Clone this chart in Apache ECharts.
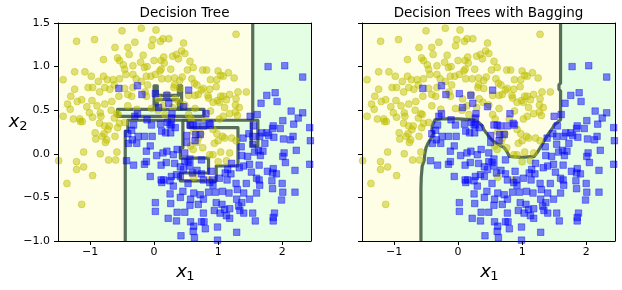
<!DOCTYPE html>
<html><head><meta charset="utf-8">
<script src="https://cdn.jsdelivr.net/npm/echarts@6/dist/echarts.min.js"></script>
<style>html,body{margin:0;padding:0;background:#fff}#c{width:622px;height:290px}</style>
</head><body><div id="c"></div>
<script>
// ---- data ----
const titles = ['Decision Tree', 'Decision Trees with Bagging'];
const xTicks = [-1, 0, 1, 2];
const yTicks = [-1.0, -0.5, 0.0, 0.5, 1.0, 1.5];
const xRange = [-1.5, 2.45];
const yRange = [-1, 1.5];

// class 0 (yellow circles)
const class0 = [
[-1.21,1.29],[-0.93,1.31],[-0.50,1.41],[-0.20,1.44],[0.03,1.42],[-0.02,1.31],[0.14,1.32],[0.10,1.29],[-0.04,1.24],[0.23,1.32],[0.46,1.27],[1.28,1.37],
[-0.61,1.22],[-0.41,1.22],[-0.17,1.13],[-0.30,1.28],[-0.39,1.14],[-0.57,1.10],[-0.54,1.07],[-0.48,1.02],[-0.46,0.97],[-0.33,1.01],[-0.21,1.05],[-0.15,0.99],[-0.11,1.00],[0.00,1.07],[0.15,1.11],[0.11,1.07],[0.16,1.04],[0.11,0.97],[0.09,0.95],[0.26,0.97],[0.29,1.12],[0.35,1.14],[0.43,1.18],[0.48,1.15],[0.38,1.09],[0.56,1.06],[0.61,0.99],[0.52,0.96],[0.76,0.96],[0.82,0.96],[1.00,0.95],[1.16,0.93],[1.04,0.90],
[-0.79,1.08],[-1.08,0.94],[-1.24,0.94],[-0.98,0.89],[-0.87,0.83],[-0.79,0.89],[-0.73,0.85],[-0.64,0.85],[-0.54,0.86],[-0.44,0.91],[-0.33,0.91],[-0.28,0.86],[-0.20,0.83],[-0.12,0.89],[-0.05,0.89],[0.02,0.91],[0.12,0.86],[0.22,0.86],[0.32,0.87],[0.40,0.84],[0.44,0.88],[0.59,0.86],[0.63,0.81],[0.67,0.79],[0.88,0.85],[0.98,0.85],[1.08,0.89],[1.25,0.87],
[-1.42,0.85],[-1.30,0.66],[-1.24,0.74],[-1.20,0.60],[-1.13,0.62],[-1.03,0.76],[-0.96,0.76],[-0.85,0.71],[-0.77,0.76],[-0.69,0.74],[-0.62,0.79],[-0.55,0.66],[-0.46,0.75],[-0.41,0.68],[-0.35,0.66],[-0.33,0.76],[-0.14,0.71],[-0.12,0.66],[-0.10,0.79],[0.32,0.79],[0.31,0.76],[0.40,0.75],
[0.54,0.67],[0.64,0.67],[0.69,0.68],[0.74,0.73],[0.77,0.75],[0.85,0.64],[0.84,0.67],[0.87,0.74],[0.97,0.77],[1.08,0.66],[1.18,0.68],[1.28,0.63],[1.31,0.71],[1.44,0.71],[1.13,0.62],[0.99,0.61],[0.92,0.59],
[-1.42,0.43],[-1.35,0.57],[-1.31,0.51],[-1.15,0.37],[-1.12,0.37],[-1.16,0.40],[-1.26,0.40],[-1.05,0.54],[-1.01,0.47],[-0.97,0.61],[-0.96,0.42],[-0.89,0.55],[-0.84,0.47],[-0.83,0.43],[-0.77,0.57],[-0.66,0.60],[-0.67,0.50],[-0.58,0.46],[-0.62,0.41],[-0.56,0.45],[-0.41,0.55],[-0.27,0.51],
[-0.85,0.35],[-0.92,0.24],[-0.91,0.17],[-0.81,0.20],[-0.72,0.28],[-0.77,0.32],[-0.61,0.20],[-0.57,0.30],[-0.54,0.35],[-0.46,0.36],[-0.74,0.16],[-1.10,0.02],[-1.21,-0.09],[-1.21,-0.18],[-0.96,-0.25],[-1.36,-0.34],[-1.13,-0.58],[-1.49,-0.08],[-0.84,0.00],[-0.71,-0.07],[-0.60,-0.07],[-0.58,0.02],[-0.76,0.13],[-0.70,0.32],[-0.78,0.23],[-1.10,-0.15],
[1.04,0.66],[1.02,0.59],[1.10,0.53],[1.27,0.56],[1.33,0.53],[1.18,0.46],[1.30,0.44],[1.02,0.40],[1.08,0.43],[0.88,0.49],[0.64,0.52],[0.54,0.45],[0.58,0.40],[0.92,0.28],[0.98,0.23],[1.07,0.20],[1.10,0.18],[0.94,0.12],[1.04,0.02],[1.18,0.01],[1.00,-0.09],[0.87,-0.01],[0.76,0.07],[0.67,0.13],[0.57,0.09],[0.73,0.23],[0.62,0.25],[0.26,0.40],[0.17,0.45],[0.29,0.53],[0.39,0.59],[0.48,0.56],[0.33,0.63],[0.20,0.68],[0.07,0.63],[0.14,0.55],[0.06,0.50],[-0.04,0.52],[0.62,-0.27],[0.92,-0.01],[1.13,-0.08],[0.85,-0.30],[0.61,0.05],[1.27,0.48],[0.80,0.40],[1.21,0.18],[1.00,0.15],[0.69,0.18],[1.28,0.15]
];

// class 1 (blue squares)
const class1 = [
[-0.55,0.75],[-0.26,0.78],[-0.19,0.68],[0.02,0.69],[0.54,0.73],[1.78,1.00],[2.04,1.01],[2.32,0.88],[1.76,0.67],[1.92,0.60],[1.89,0.70],[1.67,0.58],[2.14,0.49],[2.32,0.47],[2.25,0.41],[2.18,0.34],[2.01,0.38],[1.50,0.43],[1.61,0.45],[1.86,0.32],[1.85,0.29],[1.68,0.24],[1.76,0.24],[1.79,0.21],[1.97,0.29],[2.02,0.17],[1.87,0.19],[2.17,0.20],[2.43,0.30],[2.44,0.15],[2.43,-0.12],[2.22,0.04],[2.03,0.01],[2.01,-0.03],[2.05,-0.10],[2.20,-0.19],[1.86,-0.17],[1.85,-0.22],[1.91,-0.23],[1.77,-0.20],[1.84,-0.31],[1.66,-0.02],[1.63,0.04],[1.54,0.11],[1.48,0.23],[1.39,0.18],[1.46,-0.03],[1.49,-0.12],[1.64,-0.13],[1.37,-0.02],[1.40,-0.14],[1.52,-0.21],[1.60,-0.28],[1.64,-0.30],[1.65,-0.36],[1.60,-0.45],[1.49,-0.52],[1.40,-0.45],[1.29,-0.52],[1.37,-0.56],[1.28,-0.34],[1.30,-0.41],[1.17,-0.45],[1.07,-0.43],[1.15,-0.18],[1.11,-0.22],[1.02,-0.28],[0.92,-0.36],[0.96,-0.44],[0.85,-0.44],[0.72,-0.47],[0.77,-0.52],[0.57,-0.52],[0.62,-0.45],[0.45,-0.43],[0.25,-0.46],[0.30,-0.37],[0.25,-0.31],[0.27,-0.26],[0.15,-0.30],[0.12,-0.33],[0.11,-0.13],[0.19,-0.10],[0.32,-0.11],[0.41,-0.15],[0.48,-0.09],[0.56,-0.14],[0.67,-0.19],[0.74,-0.23],[0.60,-0.22],[0.46,-0.18],[0.41,-0.26],[0.35,-0.24],[0.04,-0.02],[0.14,0.01],[0.20,0.03],[0.30,-0.01],[0.36,0.05],[0.48,0.01],[0.56,-0.06],[0.53,-0.10],[0.74,-0.07],[0.89,-0.20],[0.91,-0.30],[0.87,-0.33],[1.21,-0.11],[1.33,-0.16],[1.20,-0.23],[1.14,-0.30],
[0.26,0.24],[0.18,0.24],[-0.04,0.33],[-0.11,0.39],[-0.26,0.46],[-0.30,0.43],[-0.41,0.23],[-0.40,0.12],[-0.27,0.12],[-0.35,0.27],[-0.25,0.20],[-0.15,0.20],[-0.03,0.20],[0.12,0.26],[0.25,0.33],[0.21,0.36],[0.27,0.33],[0.28,0.46],[0.07,0.53],[0.27,0.41],[0.46,0.54],[0.61,0.33],[0.66,0.32],[0.65,0.22],[0.51,0.21],[0.51,0.13],[0.64,0.15],[0.72,0.22],[0.77,0.32],[0.86,0.35],[0.88,0.33],[0.81,0.46],[1.55,0.32],[1.54,0.20],[1.65,0.20],[1.73,0.12],
[-0.15,-0.12],[-0.43,-0.08],[-0.32,-0.13],[-0.06,-0.26],[0.11,-0.30],[0.02,-0.56],[0.02,-0.66],[0.22,-0.74],[0.36,-0.67],[0.48,-0.67],[0.56,-0.59],[0.69,-0.58],[0.77,-0.68],[0.78,-0.78],[0.97,-0.56],[0.94,-0.65],[1.03,-0.68],[1.10,-0.64],[1.13,-0.71],[1.18,-0.74],[1.18,-0.63],[1.32,-0.60],[1.34,-0.65],[1.40,-0.68],[1.54,-0.68],[1.58,-0.77],[1.88,-0.68],[1.86,-0.73],[1.86,-0.77],[1.99,-0.53],[2.01,-0.44],[2.20,-0.44],[1.85,-0.40],[0.74,-0.78],[0.80,-0.86],[0.62,-0.83],[0.61,-0.89],[0.57,-0.78],[0.42,-0.94],[0.63,-0.96],[0.99,-0.84],[0.99,-0.99],[1.29,-0.90],[1.06,-0.58],
[2.00,-0.34],[1.44,-0.34],[0.77,-0.30],[0.53,-0.34],[0.35,-0.77],[0.26,-0.57],[0.41,-0.50],[-0.32,0.33],[0.10,0.34],[0.33,0.30],[-0.34,0.16],[-0.06,0.09],[-0.12,0.03],[-0.12,-0.09],[0.23,0.58],[2.13,0.16],[1.70,0.03],[1.57,0.02],[1.36,0.08],[0.56,0.33],[0.20,0.67]
];

// decision regions (outline vertices in data units)
const treeRegionsClass1 = [
  [[-0.45,-1.4],[-0.45,0.26],[-0.41,0.26],[-0.41,0.385],[1.54,0.385],[1.54,1.9],[2.8,1.9],[2.8,-1.4]],
  [[-0.57,0.43],[0.78,0.43],[0.78,0.51],[-0.57,0.51]],
  [[0.0,0.51],[0.05,0.51],[0.05,0.62],[0.38,0.62],[0.38,0.51],[0.43,0.51],[0.43,0.78],[0.38,0.78],[0.38,0.67],[0.05,0.67],[0.05,0.78],[0.0,0.78]]
];
const treeRegionsClass0 = [
  [[1.52,0.09],[1.62,0.09],[1.62,0.385],[1.52,0.385]],
  [[0.45,0.385],[0.54,0.385],[0.54,0.30],[1.31,0.30],[1.31,-0.14],[0.97,-0.14],[0.97,-0.31],[0.41,-0.31],[0.41,-0.22],[0.85,-0.22],[0.85,-0.05],[0.41,-0.05],[0.41,0.07],[0.45,0.07]]
];
const baggingBoundary = [
  [1.60,1.9],[1.60,0.81],[1.575,0.79],[1.575,0.74],[1.60,0.72],[1.60,0.39],[1.55,0.36],[1.50,0.33],[1.48,0.30],[1.42,0.24],[1.37,0.18],[1.33,0.13],[1.30,0.09],[1.24,0.02],[1.19,-0.03],[1.00,-0.04],[0.80,-0.03],[0.76,0.03],[0.72,0.07],[0.62,0.11],[0.54,0.15],[0.48,0.20],[0.44,0.24],[0.40,0.28],[0.38,0.32],[0.32,0.36],[0.25,0.39],[0.00,0.40],[-0.26,0.40],[-0.36,0.39],[-0.40,0.33],[-0.41,0.27],[-0.38,0.24],[-0.42,0.18],[-0.47,0.12],[-0.50,0.07],[-0.52,0.00],[-0.53,-0.08],[-0.56,-0.14],[-0.575,-0.27],[-0.58,-0.40],[-0.58,-1.4]
];
const baggingRegionsClass1 = [ baggingBoundary.concat([[2.8,-1.4],[2.8,1.9]]) ];

// ---- styles ----
const FONT = 'DejaVu Sans';
const COL0_BG = '#fefee7', COL1_BG = '#e3fee3';
const LINE = 'rgba(70,94,72,0.9)';

function regionSeries(gi, polys, fill, withStroke, z) {
  return {
    type: 'custom', xAxisIndex: gi, yAxisIndex: gi, clip: true, z: z, silent: true,
    data: polys.map(p => p[0]),
    renderItem: function (params, api) {
      const pts = polys[params.dataIndex].map(q => api.coord(q));
      return { type: 'polygon', shape: { points: pts },
        style: withStroke ? { fill: 'none', stroke: LINE, lineWidth: 3.2, lineJoin: 'round' }
                          : { fill: fill, stroke: 'none' } };
    }
  };
}
const minus = s => s.replace('-', '\u2212');
function axesFor(gi, showYLabels) {
  const xa = [{
    gridIndex: gi, type: 'value', min: xRange[0], max: xRange[1], position: 'bottom', z: 10,
    axisLine: { show: true, onZero: false, lineStyle: { color: '#000', width: 1 } },
    axisTick: { show: true, customValues: xTicks, length: 4, lineStyle: { color: '#000' } },
    axisLabel: { customValues: xTicks, formatter: v => minus(String(v)), color: '#000', fontSize: 11, fontFamily: FONT, margin: 6 },
    splitLine: { show: false }
  }, {
    gridIndex: gi, type: 'value', min: xRange[0], max: xRange[1], position: 'top', z: 10,
    axisLine: { show: true, onZero: false, lineStyle: { color: '#000', width: 1 } },
    axisTick: { show: false }, axisLabel: { show: false }, splitLine: { show: false }
  }];
  const ya = [{
    gridIndex: gi, type: 'value', min: yRange[0], max: yRange[1], interval: 0.5, position: 'left', z: 10,
    axisLine: { show: true, onZero: false, lineStyle: { color: '#000', width: 1 } },
    axisTick: { show: true, length: 4, lineStyle: { color: '#000' } },
    axisLabel: { show: showYLabels, formatter: v => minus(v.toFixed(1)), color: '#000', fontSize: 11, fontFamily: FONT, margin: 8 },
    splitLine: { show: false }
  }, {
    gridIndex: gi, type: 'value', min: yRange[0], max: yRange[1], position: 'right', z: 10,
    axisLine: { show: true, onZero: false, lineStyle: { color: '#000', width: 1 } },
    axisTick: { show: false }, axisLabel: { show: false }, splitLine: { show: false }
  }];
  return { xa, ya };
}
const A0 = axesFor(0, true), A1 = axesFor(1, false);
const xAxes = [A0.xa[0], A1.xa[0], A0.xa[1], A1.xa[1]];
const yAxes = [A0.ya[0], A1.ya[0], A0.ya[1], A1.ya[1]];

function scatterPair(gi) {
  return [{
    type: 'scatter', xAxisIndex: gi, yAxisIndex: gi, clip: true, z: 5, silent: true,
    symbol: 'circle', symbolSize: 7, data: class0,
    itemStyle: { color: 'rgba(191,191,0,0.5)', borderColor: 'rgba(191,191,0,0.5)', borderWidth: 0.8, opacity: 1 }
  }, {
    type: 'scatter', xAxisIndex: gi, yAxisIndex: gi, clip: true, z: 6, silent: true,
    symbol: 'rect', symbolSize: 6.5, data: class1,
    itemStyle: { color: 'rgba(0,0,255,0.5)', borderColor: 'rgba(0,0,255,0.5)', borderWidth: 0.8, opacity: 1 }
  }];
}

function txt(x, y, s, size, italic) {
  return { type: 'text', x: x, y: y, z: 20, silent: true,
    style: { text: s, fill: '#000', textAlign: 'center', textVerticalAlign: 'middle',
      font: (italic ? 'italic ' : '') + size + 'px "' + FONT + '"' } };
}

const chart = echarts.init(document.getElementById('c'), null, { renderer: 'canvas' });
chart.setOption({
  animation: false,
  backgroundColor: '#fff',
  grid: [
    { left: 58, top: 23, width: 253, height: 218, show: true, backgroundColor: COL0_BG, borderWidth: 0 },
    { left: 362, top: 23, width: 253, height: 218, show: true, backgroundColor: COL0_BG, borderWidth: 0 }
  ],
  xAxis: xAxes.map((a, i) => Object.assign({}, a, { gridIndex: i % 2 })),
  yAxis: yAxes.map((a, i) => Object.assign({}, a, { gridIndex: i % 2 })),
  series: [
    regionSeries(0, treeRegionsClass1, COL1_BG, false, 1),
    regionSeries(0, treeRegionsClass0, COL0_BG, false, 1.5),
    regionSeries(0, treeRegionsClass1.concat(treeRegionsClass0), null, true, 2),
    regionSeries(1, baggingRegionsClass1, COL1_BG, false, 1),
    regionSeries(1, baggingRegionsClass1, null, true, 2)
  ].concat(scatterPair(0), scatterPair(1)),
  graphic: [
    txt(184.5, 13, titles[0], 13.5, false),
    txt(488.5, 13, titles[1], 13.5, false),
    txt(181.5, 272.5, 'x', 18, true), txt(190.5, 277, '1', 13, false),
    txt(485.5, 272.5, 'x', 18, true), txt(494.5, 277, '1', 13, false),
    txt(14, 122.5, 'x', 18, true), txt(23.5, 127, '2', 13, false)
  ]
});
</script></body></html>
